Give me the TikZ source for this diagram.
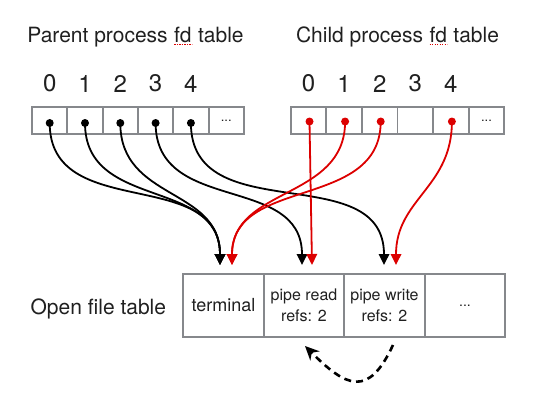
\documentclass[tikz,border=0pt]{standalone}
\usepackage{fontspec}
\setmainfont{TeX Gyre Heros}
\usetikzlibrary{positioning,arrows.meta}

\definecolor{cellgray}{RGB}{134,136,140}
\definecolor{fdred}{RGB}{220,0,0}
\definecolor{inkblack}{RGB}{32,32,32}

% red dotted spell-check mark under "fd"
\newcommand{\spellfd}{\tikz[baseline=(sw.base)]{\node[inner sep=0pt,outer sep=0pt] (sw) {fd};
  \draw[fdred, line width=1.2pt, dash pattern=on 1.4pt off 1.1pt] ([yshift=-1.5pt]sw.south west) -- ([yshift=-1.5pt]sw.south east);}}

\tikzset{
  fdcell/.style={draw=cellgray, line width=1.8pt, minimum width=35.5pt, minimum height=27pt,
    inner sep=0pt, outer sep=0pt, font=\fontsize{13}{15}\selectfont, text=inkblack},
  filecell/.style={draw=cellgray, line width=1.8pt, minimum width=80.5pt, minimum height=63pt,
    inner sep=0pt, outer sep=0pt, align=center, text=inkblack},
  title/.style={font=\fontsize{21}{25}\selectfont, text=inkblack, inner sep=0pt},
  idx/.style={font=\fontsize{24}{28}\selectfont, text=inkblack, inner sep=0pt},
  ptr/.style={line width=1.8pt, -{Triangle[length=11pt,width=10.5pt]}},
  backref/.style={line width=2.6pt, dash pattern=on 7pt off 5pt, -{Stealth[length=14pt,width=13pt]}}
}

\begin{document}
\begin{tikzpicture}[x=1pt, y=1pt]
  \useasboundingbox (0,0) rectangle (537,-413);

  % Titles
  \node[title, anchor=base] (ptitle) at (135.5,-42.3) {Parent process \spellfd{} table};
  \node[title, anchor=base] (ctitle) at (397.5,-42.3) {Child process \spellfd{} table};

  % Parent fd table
  \foreach \i in {0,...,5} {
    \node[fdcell] (p\i) at (49.7+35.3*\i,-120.5) {};
  }
  \node at (p5) [font=\fontsize{13}{15}\selectfont, text=inkblack] {...};
  \foreach \i in {0,...,4} {
    \node[idx, above=14.5pt of p\i] {\i};
    \coordinate (pd\i) at ([yshift=-2.5pt]p\i.center);
  }

  % Child fd table
  \foreach \i in {0,...,5} {
    \node[fdcell] (c\i) at (308.5+35.6*\i,-120.5) {};
  }
  \node at (c5) [font=\fontsize{13}{15}\selectfont, text=inkblack] {...};
  \foreach \i in {0,...,4} {
    \node[idx, above=14.5pt of c\i] {\i};
  }
  \foreach \i in {0,1,2,4} {
    \coordinate (cd\i) at ([xshift=1pt,yshift=-1pt]c\i.center);
  }

  % Open file table
  \node[filecell, font=\fontsize{18}{21}\selectfont] (ter) at (223.5,-305.5) {terminal};
  \node[filecell, font=\fontsize{16}{21}\selectfont, right=0pt of ter] (pr) {pipe read\\refs: 2};
  \node[filecell, font=\fontsize{16}{21}\selectfont, right=0pt of pr] (pw) {pipe write\\refs: 2};
  \node[filecell, font=\fontsize{14}{16}\selectfont, right=0pt of pw] (more) {...};
  \node[title, left=17pt of ter, yshift=-3pt] (oft) {Open file table};

  % arrow ends above the open file entries
  \coordinate (ter-b) at ([xshift=-3.5pt,yshift=9pt]ter.north);
  \coordinate (ter-r) at ([xshift=8.5pt,yshift=9pt]ter.north);
  \coordinate (pr-b) at ([xshift=-2pt,yshift=9pt]pr.north);
  \coordinate (pr-r) at ([xshift=8pt,yshift=9pt]pr.north);
  \coordinate (pw-b) at ([xshift=-0.5pt,yshift=9pt]pw.north);
  \coordinate (pw-r) at ([xshift=11.5pt,yshift=9pt]pw.north);

  % Parent pointers
  \foreach \i/\t in {0/ter-b,1/ter-b,2/ter-b,3/pr-b,4/pw-b} {
    \fill (pd\i) circle (4pt);
    \draw[ptr] (pd\i) to[out=-90,in=90,looseness=1.15] (\t);
  }

  % Child pointers
  \foreach \i in {0,1,2,4} {
    \fill[fdred] (cd\i) circle (4pt);
  }
  \draw[ptr, fdred] (cd0) -- (pr-r);
  \draw[ptr, fdred] (cd1) to[out=-90,in=90,looseness=1.1] (ter-r);
  \draw[ptr, fdred] (cd2) to[out=-90,in=90,looseness=1.1] (ter-r);
  \draw[ptr, fdred] (cd4) to[out=-90,in=90,looseness=1.1] (pw-r);

  % write end feeds the read end
  \coordinate (pw-s) at ([xshift=8.5pt,yshift=-8pt]pw.south);
  \coordinate (pr-s) at ([xshift=1pt,yshift=-9pt]pr.south);
  \draw[backref] (pw-s) to[out=-115,in=-45,looseness=1.7] (pr-s);
\end{tikzpicture}
\end{document}
